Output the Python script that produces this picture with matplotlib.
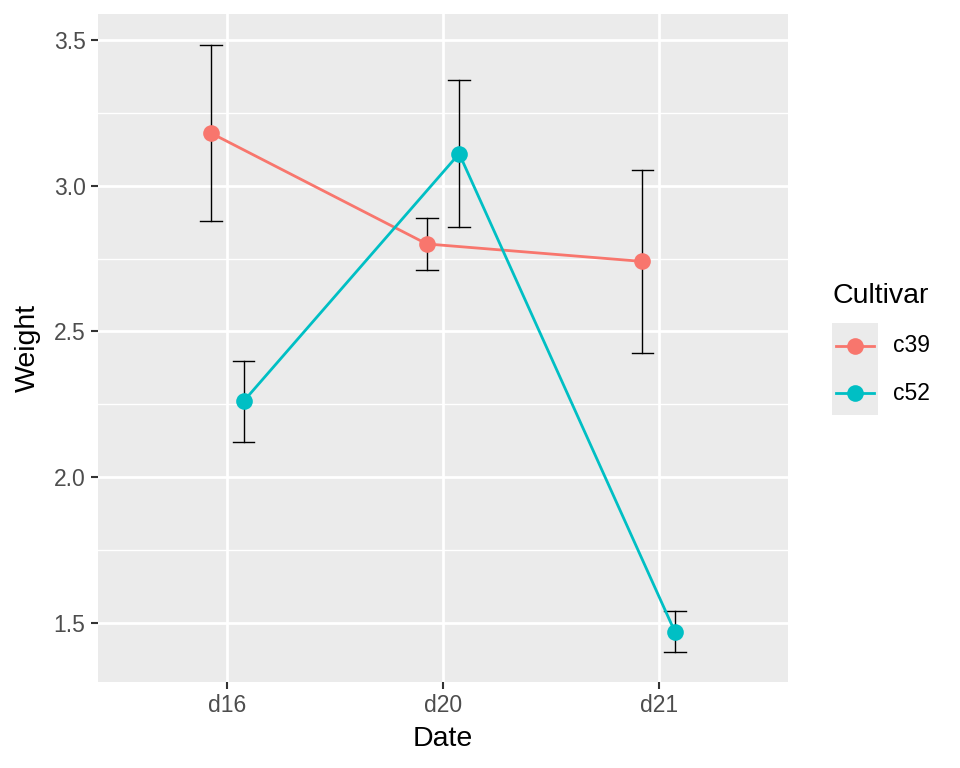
import numpy as np
import matplotlib.pyplot as plt
from matplotlib.lines import Line2D
from matplotlib.patches import Rectangle

plt.rcParams['font.family'] = ['Liberation Sans', 'DejaVu Sans']

dates = ['d16', 'd20', 'd21']
cultivars = ['c39', 'c52']
weight_c39 = [3.18, 2.80, 2.74]
weight_c52 = [2.26, 3.11, 1.47]
se_c39 = [0.3025, 0.0882, 0.3151]
se_c52 = [0.1392, 0.2523, 0.0694]

colors = {'c39': '#F8766D', 'c52': '#00BFC4'}
dodge = {'c39': -0.075, 'c52': 0.075}

W, H = 960, 768
fig = plt.figure(figsize=(W / 100, H / 100), dpi=100)
ax = fig.add_axes([98 / W, (H - 682) / H, 690 / W, 668 / H])
ax.set_facecolor('#EBEBEB')
for s in ax.spines.values():
    s.set_visible(False)

x = np.arange(1, len(dates) + 1)
series = {'c39': (weight_c39, se_c39), 'c52': (weight_c52, se_c52)}

for cv in cultivars:
    w, se = series[cv]
    w = np.asarray(w)
    se = np.asarray(se)
    xx = x + dodge[cv]
    # error bars, caps 0.1 wide
    for xi, yi, ei in zip(xx, w, se):
        ax.plot([xi, xi], [yi - ei, yi + ei], color='black', lw=1.0, zorder=3)
        ax.plot([xi - 0.05, xi + 0.05], [yi + ei, yi + ei], color='black', lw=1.0, zorder=3)
        ax.plot([xi - 0.05, xi + 0.05], [yi - ei, yi - ei], color='black', lw=1.0, zorder=3)
    ax.plot(xx, w, color=colors[cv], lw=2.0, zorder=4)
    ax.plot(xx, w, 'o', color=colors[cv], ms=12, mec='none', zorder=5)

ax.set_xlim(0.4, 3.6)
ax.set_ylim(1.297, 3.589)
ax.set_xticks(x)
ax.set_xticklabels(dates)
ax.set_yticks([1.5, 2.0, 2.5, 3.0, 3.5])
ax.set_yticks([1.75, 2.25, 2.75, 3.25], minor=True)
ax.grid(which='major', color='white', lw=2.0)
ax.grid(which='minor', axis='y', color='white', lw=1.0)
ax.set_axisbelow(True)
ax.tick_params(which='major', length=5, width=1.5, color='#333333',
               labelcolor='#4D4D4D', labelsize=16.5, pad=4)
ax.tick_params(which='minor', length=0)
ax.set_xlabel('Date', fontsize=20.5, labelpad=6)
ax.set_ylabel('Weight', fontsize=20.5, labelpad=9)

# legend
fig.text(832 / W, 1 - 296 / H, 'Cultivar', fontsize=20.5, va='center', ha='left')
fig.patches.append(Rectangle((832 / W, 1 - 415 / H), 46 / W, 92 / H,
                             transform=fig.transFigure, facecolor='#EBEBEB',
                             edgecolor='none'))
for i, cv in enumerate(cultivars):
    yk = 1 - (346 + 47 * i) / H
    fig.lines.append(Line2D([836 / W, 874 / W], [yk, yk], transform=fig.transFigure,
                            color=colors[cv], lw=2.0))
    fig.lines.append(Line2D([855 / W], [yk], transform=fig.transFigure,
                            marker='o', ms=12, mec='none', color=colors[cv]))
    fig.text(893 / W, yk, cv, fontsize=16.5, va='center', ha='left')

fig.savefig('out.png', dpi=100)
